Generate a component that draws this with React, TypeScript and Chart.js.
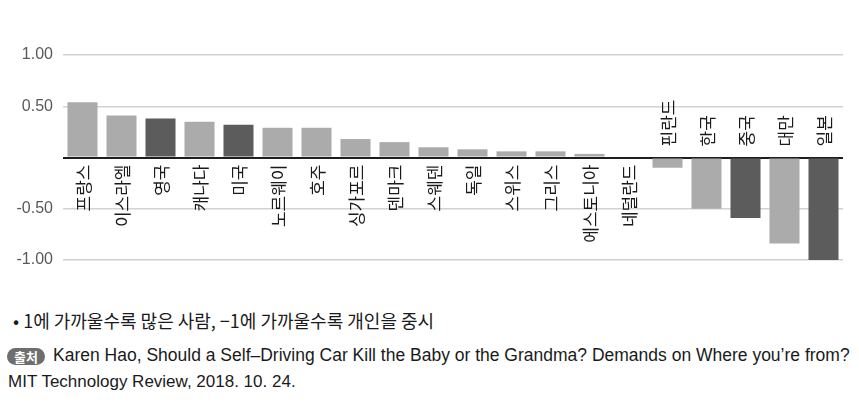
import { useEffect, useRef } from 'react'
import { Chart, registerables, Plugin } from 'chart.js'

Chart.register(...registerables)

const countries = [
  '프랑스', '이스라엘', '영국', '캐나다', '미국', '노르웨이', '호주', '싱가포르', '덴마크', '스웨덴',
  '독일', '스위스', '그리스', '에스토니아', '네덜란드', '핀란드', '한국', '중국', '대만', '일본',
]
const scores = [
  0.54, 0.41, 0.38, 0.35, 0.32, 0.29, 0.29, 0.18, 0.15, 0.10,
  0.08, 0.06, 0.06, 0.035, 0, -0.10, -0.50, -0.59, -0.84, -1.0,
]
// countries drawn in the darker grey
const highlighted = ['영국', '미국', '중국', '일본']
const yTicks = [1, 0.5, 0, -0.5, -1]

const LIGHT = '#ababab'
const DARK = '#5c5c5c'

// category labels sit on the zero line: below it for positive bars, above it for negative ones
const zeroLabels: Plugin<'bar'> = {
  id: 'zeroLabels',
  afterDatasetsDraw(chart) {
    const { ctx } = chart
    const x = chart.scales.x
    const y = chart.scales.y
    const y0 = y.getPixelForValue(0)
    ctx.save()
    ctx.font = '17px "Noto Sans CJK KR", sans-serif'
    ctx.fillStyle = '#1a1a1a'
    ctx.textBaseline = 'middle'
    countries.forEach((name, i) => {
      const px = x.getPixelForValue(i)
      const neg = scores[i] < 0
      ctx.save()
      ctx.translate(px, neg ? y0 - 11 : y0 + 7)
      ctx.rotate(-Math.PI / 2)
      ctx.textAlign = neg ? 'left' : 'right'
      ctx.fillText(name, 0, 1)
      ctx.restore()
    })
    ctx.restore()
  },
}

function BarChart() {
  const canvasRef = useRef<HTMLCanvasElement>(null)
  const chartInstance = useRef<Chart | null>(null)

  useEffect(() => {
    if (!canvasRef.current) return
    if (chartInstance.current) chartInstance.current.destroy()

    chartInstance.current = new Chart(canvasRef.current, {
      type: 'bar',
      data: {
        labels: countries,
        datasets: [{
          data: scores,
          backgroundColor: countries.map(c => (highlighted.includes(c) ? DARK : LIGHT)),
          categoryPercentage: 1,
          barPercentage: 0.77,
        }],
      },
      options: {
        responsive: true,
        maintainAspectRatio: false,
        animation: false,
        layout: { padding: { top: 55, bottom: 22, left: 0, right: 16 } },
        plugins: {
          legend: { display: false },
          tooltip: { enabled: false },
        },
        scales: {
          x: {
            grid: { display: false },
            border: { display: false },
            ticks: { display: false },
          },
          y: {
            min: -1,
            max: 1,
            afterFit: (scale) => { scale.width = 63 },
            afterBuildTicks: (scale) => { scale.ticks = yTicks.map(v => ({ value: v })) },
            border: { display: false },
            grid: {
              drawTicks: false,
              color: (c) => (c.tick && c.tick.value === 0 ? '#1e1e1e' : '#d2d2d2'),
              lineWidth: (c) => (c.tick && c.tick.value === 0 ? 2 : 1.5),
            },
            ticks: {
              padding: 10,
              color: '#595959',
              font: { family: '"Liberation Sans", Arial, sans-serif', size: 16 },
              callback: (v) => (Number(v) === 0 ? '' : Number(v).toFixed(2)),
            },
          },
        },
      },
      plugins: [zeroLabels],
    })

    return () => {
      if (chartInstance.current) {
        chartInstance.current.destroy()
        chartInstance.current = null
      }
    }
  }, [])

  return <canvas ref={canvasRef} />
}

const textFont = '"Liberation Sans", Arial, "Noto Sans CJK KR", sans-serif'

export default function App() {
  return (
    <div style={{ position: 'absolute', left: 0, top: 0, width: 859, height: 411, background: '#fff', fontFamily: textFont, color: '#1a1a1a' }}>
      <div style={{ position: 'absolute', left: 0, top: 0, width: 859, height: 290 }}>
        <BarChart />
      </div>
      <div style={{ position: 'absolute', left: 13, top: 308, fontSize: 18, lineHeight: '24px', whiteSpace: 'nowrap', fontFamily: '"Noto Sans CJK KR", sans-serif' }}>
        • 1에 가까울수록 많은 사람, −1에 가까울수록 개인을 중시
      </div>
      <div style={{ position: 'absolute', left: 7, top: 344, fontSize: 17.5, lineHeight: '22px', whiteSpace: 'nowrap' }}>
        <span style={{ display: 'inline-block', width: 38, height: 17, lineHeight: '17px', borderRadius: 9, background: '#6e6e6e', color: '#fff', fontSize: 13, fontWeight: 'bold', textAlign: 'center', verticalAlign: 'middle', marginRight: 8, fontFamily: '"Noto Sans CJK KR", sans-serif' }}>출처</span>
        Karen Hao, Should a Self–Driving Car Kill the Baby or the Grandma? Demands on Where you’re from?
      </div>
      <div style={{ position: 'absolute', left: 8, top: 371, fontSize: 17, lineHeight: '22px', whiteSpace: 'nowrap' }}>
        MIT Technology Review, 2018. 10. 24.
      </div>
    </div>
  )
}
